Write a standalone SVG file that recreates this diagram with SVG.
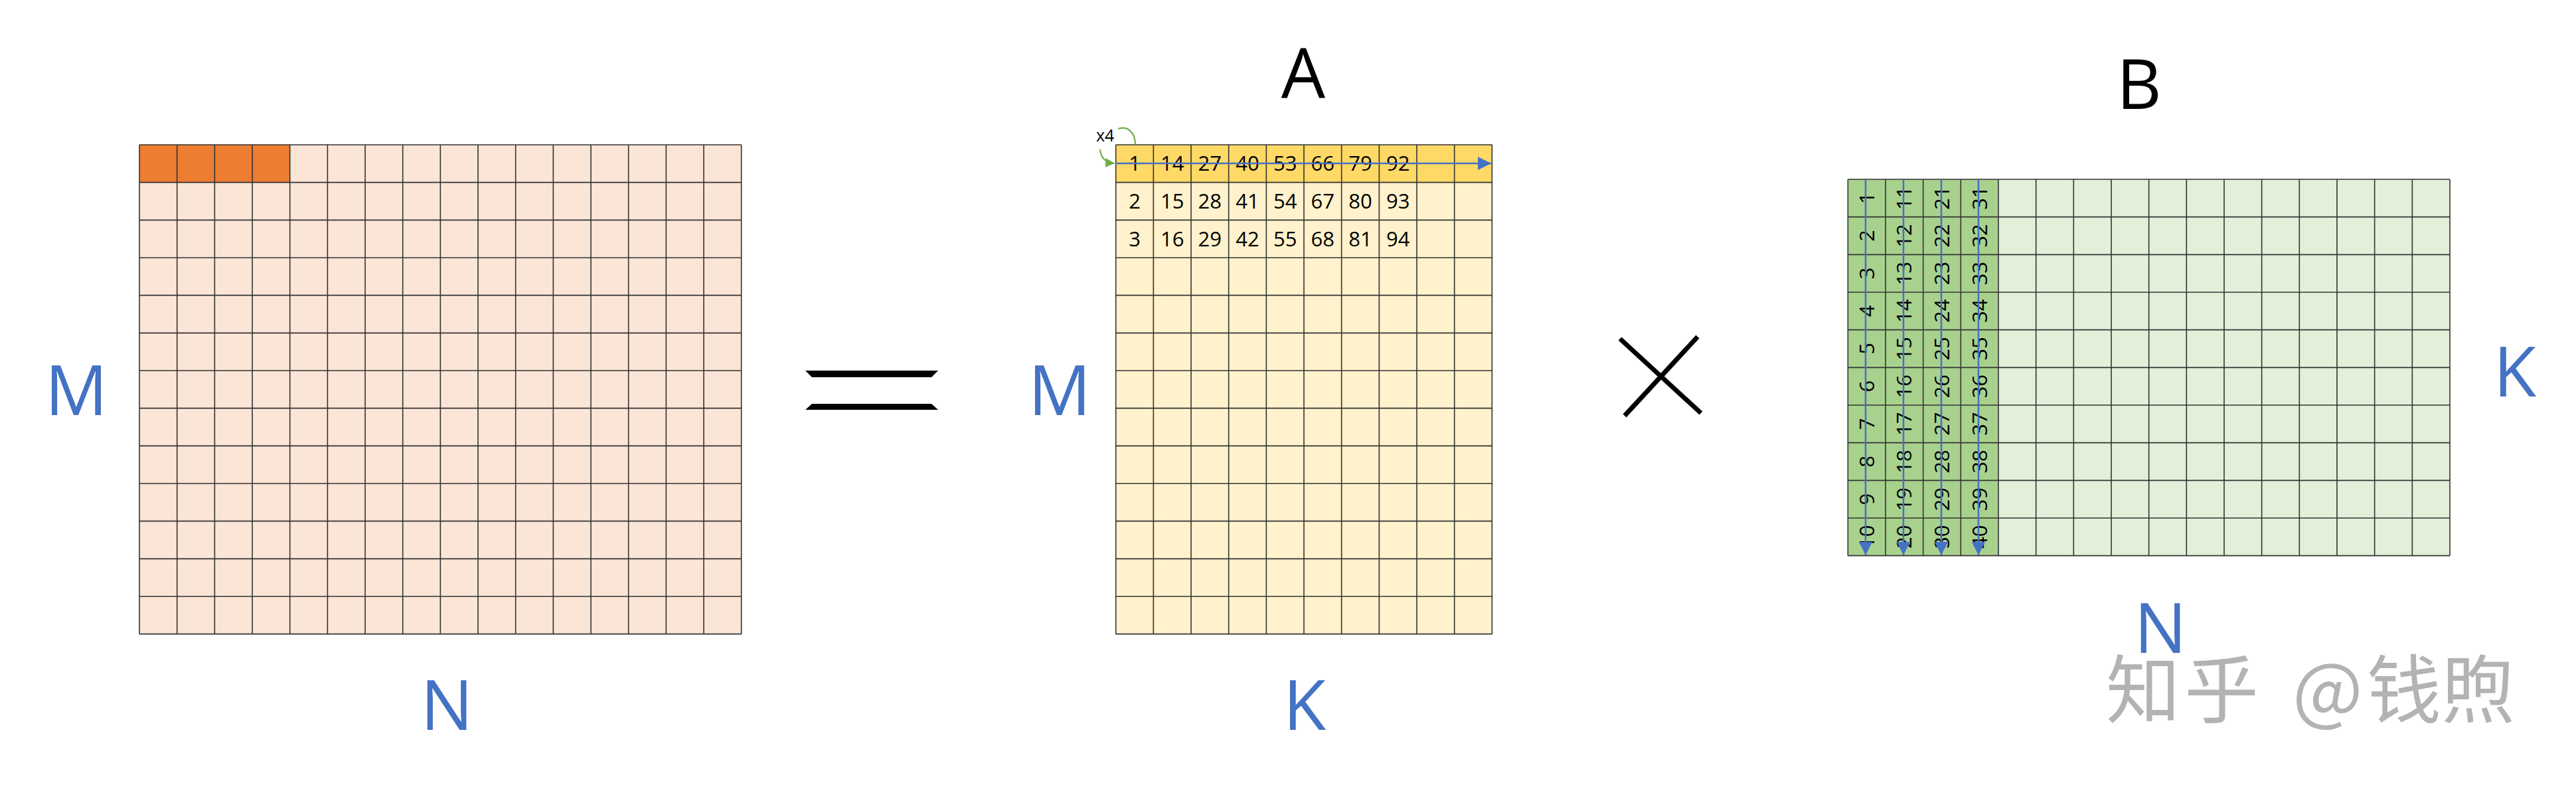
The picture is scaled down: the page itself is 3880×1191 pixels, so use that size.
<svg xmlns="http://www.w3.org/2000/svg" width="3880" height="1191" viewBox="0 0 3880 1191">
<defs>
<style>
.grid{fill:none;stroke:#333;stroke-width:1.6}
.lbl{font-family:"Open Sans","Liberation Sans",sans-serif;font-size:105px;text-anchor:middle}
.blue{fill:#4472C4}
.blk{fill:#000}
.num{font-family:"Open Sans","Liberation Sans",sans-serif;font-size:31px;text-anchor:middle;fill:#000}
.barrow{stroke:#4472C4;stroke-width:2.5;fill:none}
.garrow{stroke:#70AD47;stroke-width:2.2;fill:none}
.wm{font-family:"Noto Sans CJK SC",sans-serif;font-size:112px;fill:#b3b3b3}
</style>
<marker id="bhead" markerUnits="userSpaceOnUse" markerWidth="20" markerHeight="20" refX="20" refY="10" orient="auto">
<path d="M0,0 L20,10 L0,20 z" fill="#4472C4"/>
</marker>
<marker id="ghead" markerUnits="userSpaceOnUse" markerWidth="14" markerHeight="14" refX="14" refY="7" orient="auto">
<path d="M0,0 L14,7 L0,14 z" fill="#70AD47"/>
</marker>
</defs>
<rect width="3880" height="1191" fill="#fff"/>

<g id="matrix-C">
<rect x="210" y="218" width="906.67" height="736.67" fill="#FBE5D6"/>
<rect x="210" y="218" width="226.67" height="56.67" fill="#ED7D31"/>
<path class="grid" d="M210 218V954.67M266.67 218V954.67M323.33 218V954.67M380 218V954.67M436.67 218V954.67M493.33 218V954.67M550 218V954.67M606.67 218V954.67M663.33 218V954.67M720 218V954.67M776.67 218V954.67M833.33 218V954.67M890 218V954.67M946.67 218V954.67M1003.33 218V954.67M1060 218V954.67M1116.67 218V954.67M210 218H1116.67M210 274.67H1116.67M210 331.33H1116.67M210 388H1116.67M210 444.67H1116.67M210 501.33H1116.67M210 558H1116.67M210 614.67H1116.67M210 671.33H1116.67M210 728H1116.67M210 784.67H1116.67M210 841.33H1116.67M210 898H1116.67M210 954.67H1116.67"/>
</g>
<g id="label-C">
<text class="lbl blue" x="115" y="625">M</text>
<text class="lbl blue" x="673" y="1099">N</text>
</g>

<g id="equals">
<polygon points="1213,558 1413,558 1403,568 1223,568" fill="#000"/>
<polygon points="1223,608 1403,608 1413,617 1213,617" fill="#000"/>
</g>

<g id="matrix-A">
<rect x="1680.67" y="218" width="566.67" height="736.67" fill="#FFF2CC"/>
<rect x="1680.67" y="218" width="566.67" height="56.67" fill="#FFD966"/>
<path class="grid" d="M1680.67 218V954.67M1737.33 218V954.67M1794 218V954.67M1850.67 218V954.67M1907.33 218V954.67M1964 218V954.67M2020.67 218V954.67M2077.33 218V954.67M2134 218V954.67M2190.67 218V954.67M2247.33 218V954.67M1680.67 218H2247.33M1680.67 274.67H2247.33M1680.67 331.33H2247.33M1680.67 388H2247.33M1680.67 444.67H2247.33M1680.67 501.33H2247.33M1680.67 558H2247.33M1680.67 614.67H2247.33M1680.67 671.33H2247.33M1680.67 728H2247.33M1680.67 784.67H2247.33M1680.67 841.33H2247.33M1680.67 898H2247.33M1680.67 954.67H2247.33"/>
<text class="num" y="257.3"><tspan x="1709">1</tspan><tspan x="1765.67">14</tspan><tspan x="1822.33">27</tspan><tspan x="1879">40</tspan><tspan x="1935.67">53</tspan><tspan x="1992.33">66</tspan><tspan x="2049">79</tspan><tspan x="2105.67">92</tspan></text>
<text class="num" y="314"><tspan x="1709">2</tspan><tspan x="1765.67">15</tspan><tspan x="1822.33">28</tspan><tspan x="1879">41</tspan><tspan x="1935.67">54</tspan><tspan x="1992.33">67</tspan><tspan x="2049">80</tspan><tspan x="2105.67">93</tspan></text>
<text class="num" y="370.7"><tspan x="1709">3</tspan><tspan x="1765.67">16</tspan><tspan x="1822.33">29</tspan><tspan x="1879">42</tspan><tspan x="1935.67">55</tspan><tspan x="1992.33">68</tspan><tspan x="2049">81</tspan><tspan x="2105.67">94</tspan></text>
<text x="1651" y="213" style="font-family:'Open Sans','Liberation Sans',sans-serif;font-size:25px;fill:#000">x4</text>
</g>
<g id="label-A">
<text class="lbl blk" x="1963" y="148">A</text>
<text class="lbl blue" x="1596" y="625">M</text>
<text class="lbl blue" x="1965" y="1099">K</text>
</g>

<g id="times">
<path d="M2440 510L2562 622M2557 507L2447 626" stroke="#000" stroke-width="7" fill="none"/>
</g>

<g id="matrix-B">
<rect x="2783.33" y="270" width="906.67" height="566.67" fill="#E2F0D9"/>
<rect x="2783.33" y="270" width="226.67" height="566.67" fill="#A9D18E"/>
<path class="grid" d="M2783.33 270V836.67M2840 270V836.67M2896.67 270V836.67M2953.33 270V836.67M3010 270V836.67M3066.67 270V836.67M3123.33 270V836.67M3180 270V836.67M3236.67 270V836.67M3293.33 270V836.67M3350 270V836.67M3406.67 270V836.67M3463.33 270V836.67M3520 270V836.67M3576.67 270V836.67M3633.33 270V836.67M3690 270V836.67M2783.33 270H3690M2783.33 326.67H3690M2783.33 383.33H3690M2783.33 440H3690M2783.33 496.67H3690M2783.33 553.33H3690M2783.33 610H3690M2783.33 666.67H3690M2783.33 723.33H3690M2783.33 780H3690M2783.33 836.67H3690"/>
<g class="num">
<text transform="translate(2811.67,298.33) rotate(-90)" y="11">1</text>
<text transform="translate(2811.67,355) rotate(-90)" y="11">2</text>
<text transform="translate(2811.67,411.67) rotate(-90)" y="11">3</text>
<text transform="translate(2811.67,468.33) rotate(-90)" y="11">4</text>
<text transform="translate(2811.67,525) rotate(-90)" y="11">5</text>
<text transform="translate(2811.67,581.67) rotate(-90)" y="11">6</text>
<text transform="translate(2811.67,638.33) rotate(-90)" y="11">7</text>
<text transform="translate(2811.67,695) rotate(-90)" y="11">8</text>
<text transform="translate(2811.67,751.67) rotate(-90)" y="11">9</text>
<text transform="translate(2811.67,808.33) rotate(-90)" y="11">10</text>
<text transform="translate(2868.33,298.33) rotate(-90)" y="11">11</text>
<text transform="translate(2868.33,355) rotate(-90)" y="11">12</text>
<text transform="translate(2868.33,411.67) rotate(-90)" y="11">13</text>
<text transform="translate(2868.33,468.33) rotate(-90)" y="11">14</text>
<text transform="translate(2868.33,525) rotate(-90)" y="11">15</text>
<text transform="translate(2868.33,581.67) rotate(-90)" y="11">16</text>
<text transform="translate(2868.33,638.33) rotate(-90)" y="11">17</text>
<text transform="translate(2868.33,695) rotate(-90)" y="11">18</text>
<text transform="translate(2868.33,751.67) rotate(-90)" y="11">19</text>
<text transform="translate(2868.33,808.33) rotate(-90)" y="11">20</text>
<text transform="translate(2925,298.33) rotate(-90)" y="11">21</text>
<text transform="translate(2925,355) rotate(-90)" y="11">22</text>
<text transform="translate(2925,411.67) rotate(-90)" y="11">23</text>
<text transform="translate(2925,468.33) rotate(-90)" y="11">24</text>
<text transform="translate(2925,525) rotate(-90)" y="11">25</text>
<text transform="translate(2925,581.67) rotate(-90)" y="11">26</text>
<text transform="translate(2925,638.33) rotate(-90)" y="11">27</text>
<text transform="translate(2925,695) rotate(-90)" y="11">28</text>
<text transform="translate(2925,751.67) rotate(-90)" y="11">29</text>
<text transform="translate(2925,808.33) rotate(-90)" y="11">30</text>
<text transform="translate(2981.67,298.33) rotate(-90)" y="11">31</text>
<text transform="translate(2981.67,355) rotate(-90)" y="11">32</text>
<text transform="translate(2981.67,411.67) rotate(-90)" y="11">33</text>
<text transform="translate(2981.67,468.33) rotate(-90)" y="11">34</text>
<text transform="translate(2981.67,525) rotate(-90)" y="11">35</text>
<text transform="translate(2981.67,581.67) rotate(-90)" y="11">36</text>
<text transform="translate(2981.67,638.33) rotate(-90)" y="11">37</text>
<text transform="translate(2981.67,695) rotate(-90)" y="11">38</text>
<text transform="translate(2981.67,751.67) rotate(-90)" y="11">39</text>
<text transform="translate(2981.67,808.33) rotate(-90)" y="11">40</text>
</g>
</g>
<g id="label-B">
<text class="lbl blk" x="3222" y="164">B</text>
<text class="lbl blue" x="3788" y="597">K</text>
<text class="lbl blue" x="3254" y="983">N</text>
</g>

<g id="connectors">
<path class="barrow" d="M1680 246H2246" marker-end="url(#bhead)"/>
<path class="barrow" d="M2810 270V836" marker-end="url(#bhead)"/>
<path class="barrow" d="M2867 270V836" marker-end="url(#bhead)"/>
<path class="barrow" d="M2924 270V836" marker-end="url(#bhead)"/>
<path class="barrow" d="M2980 270V836" marker-end="url(#bhead)"/>
<path class="garrow" d="M1684 194C1699 189 1710 200 1710 218"/>
<path class="garrow" d="M1657 225C1658 238 1666 245 1679 246" marker-end="url(#ghead)"/>
</g>

<g id="watermark">
<text class="wm" y="1080" x="3172 3290 3402 3453 3565 3676">知乎 @钱煦</text>
</g>
</svg>
